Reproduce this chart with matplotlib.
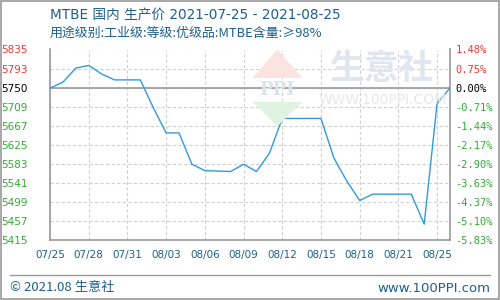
import matplotlib
matplotlib.use("Agg")
from matplotlib import pyplot as plt
from matplotlib.patches import Polygon, Rectangle
from matplotlib.lines import Line2D

plt.rcParams['font.family'] = ['Noto Sans CJK SC', 'DejaVu Sans']

# daily prices, 07/25 .. 08/25
prices = [5750, 5763, 5794, 5800, 5781, 5768, 5768, 5768, 5707, 5651,
          5651, 5582, 5568, 5567, 5566, 5582, 5566, 5606, 5683, 5683,
          5683, 5683, 5596, 5545, 5502, 5516, 5516, 5516, 5516, 5450,
          5716, 5750]
x_labels = ['07/25', '07/28', '07/31', '08/03', '08/06', '08/09',
            '08/12', '08/15', '08/18', '08/21', '08/25']
y_labels = ['5415', '5457', '5499', '5541', '5583', '5625', '5667',
            '5709', '5750', '5793', '5835']
pct_labels = ['-5.83%', '-5.10%', '-4.37%', '-3.63%', '-2.90%', '-2.17%',
              '-1.44%', '-0.71%', '0.00%', '0.75%', '1.48%']
base = 5750
y_min, y_max = 5415, 5835

blue_txt = '#1d5f8c'
red = '#ff3333'
green = '#33aa33'

fig = plt.figure(figsize=(5, 3), dpi=100)
fig.patch.set_facecolor('white')

# outer border
fig.patches.append(Rectangle((0.001, 0.002), 0.997, 0.995, transform=fig.transFigure,
                             fill=False, edgecolor='#999999', lw=1.2))

ax = fig.add_axes([0.1, 0.2, 0.8, 0.635])
ax.set_xlim(0, len(prices) - 1)
ax.set_ylim(y_min, y_max)

# watermark
fig.text(0.765, 0.77, '生意社', fontsize=25, color='#e1e5ef', ha='center', va='center',
         fontweight='bold', zorder=0)
fig.text(0.765, 0.665, 'WWW.100PPI.COM', fontsize=10, color='#e8e8e8', ha='center',
         va='center', family='DejaVu Sans', zorder=0)
fig.patches.append(Polygon([[0.505, 0.74], [0.555, 0.835], [0.605, 0.74]], closed=True,
                           transform=fig.transFigure, facecolor='#fbe3e1', edgecolor='none', zorder=0))
fig.patches.append(Polygon([[0.505, 0.66], [0.555, 0.58], [0.605, 0.66]], closed=True,
                           transform=fig.transFigure, facecolor='#e0f2e0', edgecolor='none', zorder=0))
fig.text(0.555, 0.70, 'PPI', fontsize=13, color='#dde3ee', ha='center', va='center',
         family='DejaVu Serif', fontweight='bold', zorder=0)

xi = list(range(len(prices)))
ax.plot(xi, prices, color='#3399dd', lw=1.0, zorder=3)
ax.axhline(base, color='#999999', lw=1.2, zorder=2)

yt = [y_min + 42 * i for i in range(len(y_labels))]
ax.set_yticks(yt)
ax.set_yticklabels(y_labels)
ax.set_xticks(list(range(0, 31, 3)))
ax.set_xticklabels(x_labels)
ax.grid(True, color='#d0d0d0', linestyle=(0, (3, 2)), lw=0.8)
ax.set_axisbelow(True)
ax.tick_params(axis='y', length=0, pad=16, labelsize=7.5)
ax.tick_params(axis='x', length=0, pad=7, labelsize=7.5, labelcolor=blue_txt)
for lab, v in zip(ax.get_yticklabels(), yt):
    lab.set_family('DejaVu Sans')
    lab.set_color(red if v > base + 1 else ('black' if abs(v - base) < 5 else green))
for lab in ax.get_xticklabels():
    lab.set_family('DejaVu Sans')

for s in ['left', 'right', 'bottom']:
    ax.spines[s].set_color('#999999')
    ax.spines[s].set_linewidth(1.2)
ax.spines['top'].set_visible(False)

ax2 = ax.twinx()
ax2.set_ylim(y_min, y_max)
ax2.set_yticks(yt)
ax2.set_yticklabels(pct_labels)
ax2.tick_params(axis='y', length=0, pad=4, labelsize=7.5)
for lab, v in zip(ax2.get_yticklabels(), yt):
    lab.set_family('DejaVu Sans Mono')
    lab.set_color(red if v > base + 1 else ('black' if abs(v - base) < 5 else green))
for s in ax2.spines.values():
    s.set_visible(False)

# titles
fig.text(0.1, 0.948, 'MTBE 国内 生产价 2021-07-25 - 2021-08-25', fontsize=9.8,
         color=blue_txt, va='center', ha='left', family=['DejaVu Sans', 'Noto Sans CJK SC'])
fig.text(0.1, 0.888, '用途级别:工业级:等级:优级品:MTBE含量:≥98%', fontsize=9.3,
         color=blue_txt, va='center', ha='left')

# footer
fig.add_artist(Line2D([0.02, 0.98], [0.082, 0.082], transform=fig.transFigure,
                      color='#999999', lw=1))
fig.text(0.02, 0.04, '© 2021.08 生意社', fontsize=9.5, color=blue_txt, va='center', ha='left')
fig.text(0.98, 0.04, 'www.100PPI.com', fontsize=9.5, color=blue_txt, va='center', ha='right',
         family='DejaVu Sans')

fig.savefig('out.png', dpi=100, facecolor='white')
